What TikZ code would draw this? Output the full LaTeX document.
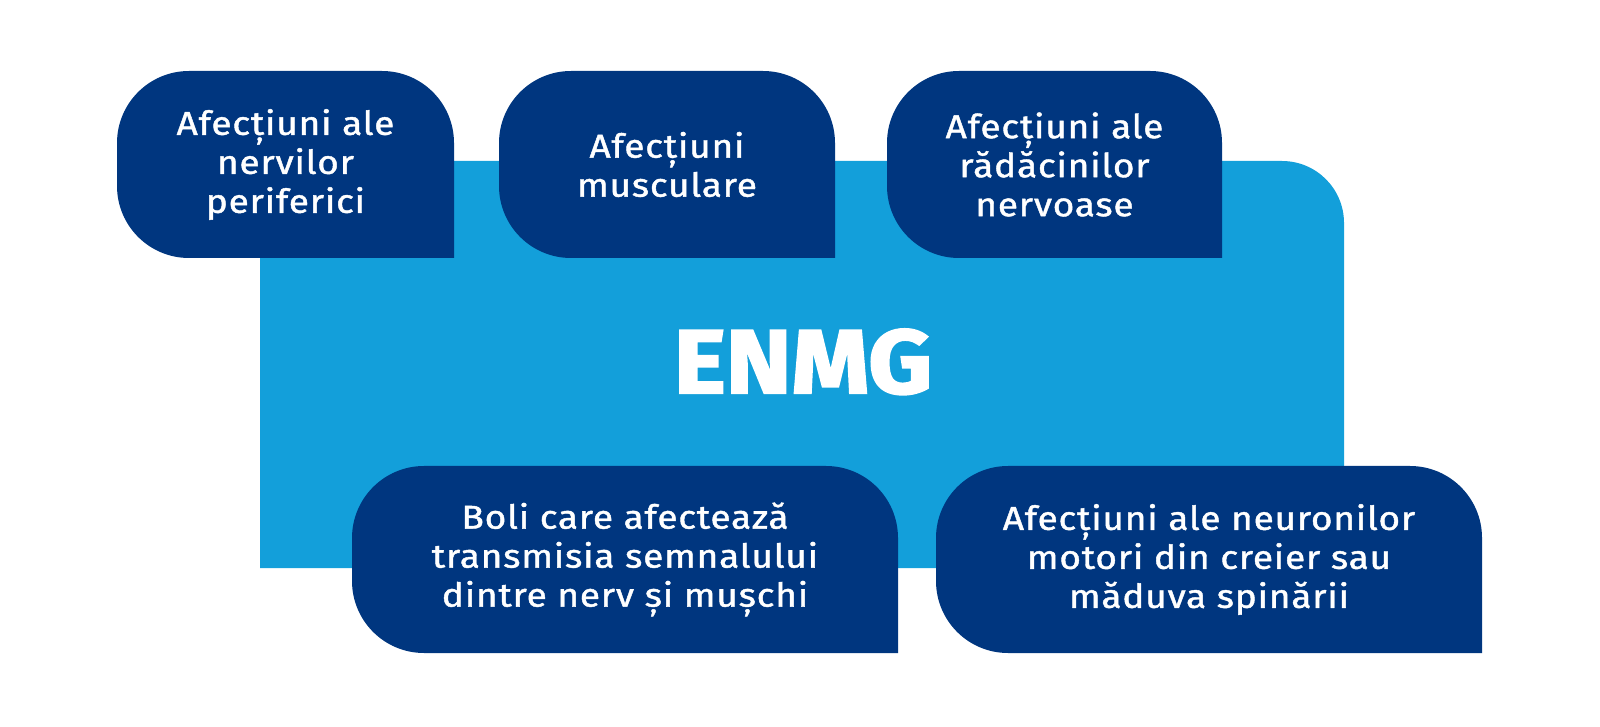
\documentclass[tikz,border=0pt]{standalone}
\usepackage{fontspec}
\setmainfont{Fira Sans}
\newfontfamily\medfont[FakeBold=1.3,FakeStretch=1.12,LetterSpace=2.5]{Fira Sans}
\newfontfamily\heavyfont[FakeBold=2.5,FakeStretch=1.1]{Fira Sans}
\definecolor{navy}{HTML}{00367F}
\definecolor{sky}{HTML}{139FDA}
\newcommand{\darkshape}[4]{% L T R B (y up)
  \fill[navy] (#3,#4) -- (#1+72,#4) arc[start angle=270,end angle=180,radius=72pt]
    -- (#1,#2-72) arc[start angle=180,end angle=90,radius=72pt]
    -- (#3-72,#2) arc[start angle=90,end angle=0,radius=72pt] -- cycle;}
\tikzset{
  lbl/.style={text=white,align=center,font=\medfont\fontsize{33}{39}\selectfont,inner sep=0pt},
  title/.style={text=white,font=\heavyfont\bfseries\fontsize{90}{90}\selectfont,inner sep=0pt}
}
\begin{document}
\begin{tikzpicture}[x=1pt,y=1pt]
\useasboundingbox (0,0) rectangle (1600,726);
% light background box
\fill[sky] (260,158) -- (260,565) -- (1344-62,565)
  arc[start angle=90,end angle=0,radius=62pt] -- (1344,158) -- cycle;
\node[title,anchor=base] (enmg) at (803,333) {ENMG};
% top boxes
\darkshape{117}{655}{454}{468}
\node[lbl] (b1) at (285.5,561.5) {Afecțiuni ale\\nervilor\\periferici};
\darkshape{499}{655}{835}{468}
\node[lbl] (b2) at (667,561.5) {Afecțiuni\\musculare};
\darkshape{887}{655}{1222}{468}
\node[lbl] (b3) at (1054.5,561.5) {Afecțiuni ale\\rădăcinilor\\nervoase};
% bottom boxes
\darkshape{352}{260}{898}{73}
\node[lbl] (b4) at (625,166.5) {Boli care afectează\\transmisia semnalului\\dintre nerv și mușchi};
\darkshape{936}{260}{1482}{73}
\node[lbl] (b5) at (1209,166.5) {Afecțiuni ale neuronilor\\motori din creier sau\\măduva spinării};
\end{tikzpicture}
\end{document}
